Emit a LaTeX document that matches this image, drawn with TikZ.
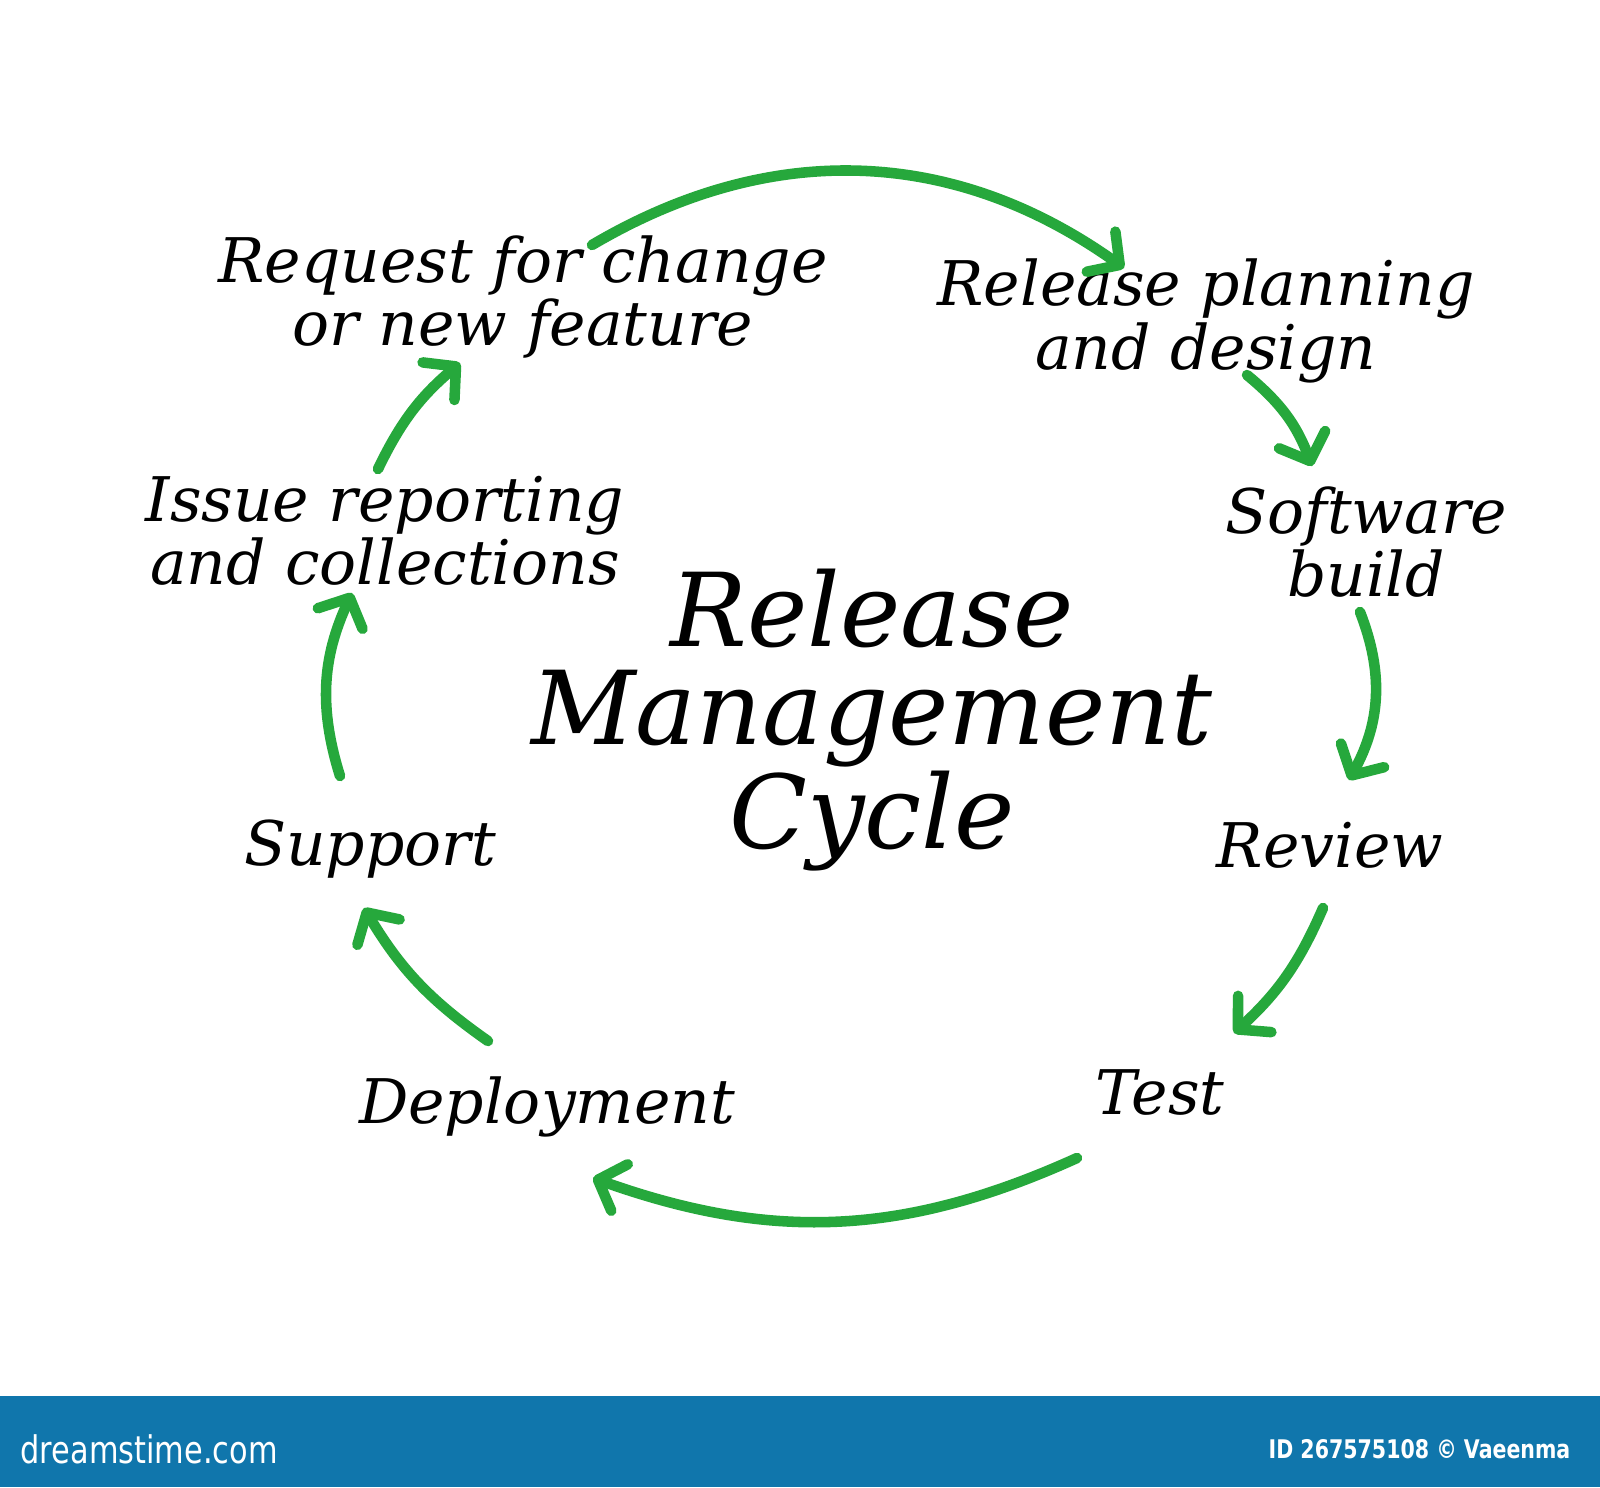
\documentclass[tikz,border=0pt]{standalone}
\usepackage{fontspec}
\setmainfont{DejaVu Serif}
\newfontfamily\barfont[FakeStretch=0.8]{DejaVu Sans}
\usetikzlibrary{arrows.meta}

\definecolor{cyclegreen}{RGB}{38,168,60}
\definecolor{barblue}{RGB}{16,118,172}

\tikzset{
    stagelabel/.style={font=\fontsize{17.5}{18}\selectfont\itshape, align=center, inner sep=0pt},
    cyclearrow/.style={cyclegreen, line width=3pt, line cap=round,
        -{Straight Barb[length=6.5pt,width=14pt,round]}}
}

\begin{document}
\begin{tikzpicture}[x=0.01cm, y=-0.01cm]

        % Canvas
        \useasboundingbox (0,0) rectangle (1600,1487);
        \fill[white] (0,0) rectangle (1600,1487);

        % Title
        \node[font=\fontsize{29}{28}\selectfont\itshape, align=center] (title) at (872,720) {Release\\Management\\Cycle};

        % Stages of the cycle
        \node[stagelabel] (request) at (523,297) {Request for change\\or new feature};
        \node[stagelabel] (planning) at (1206,321) {Release planning\\and design};
        \node[stagelabel] (build) at (1366,542) {Software\\build};
        \node[stagelabel] (review) at (1330,845) {Review};
        \node[stagelabel] (test) at (1160,1092) {Test};
        \node[stagelabel] (deploy) at (547,1107) {Deployment};
        \node[stagelabel] (support) at (370,849) {Support};
        \node[stagelabel] (issue) at (385,531) {Issue reporting\\and collections};

        % Arrow ends
        \coordinate (s1) at (592,245);  \coordinate (e1) at (1124,268);
        \coordinate (s2) at (1247,375); \coordinate (e2) at (1312,466);
        \coordinate (s3) at (1360,612); \coordinate (e3) at (1349,780);
        \coordinate (s4) at (1323,908); \coordinate (e4) at (1234,1033);
        \coordinate (s5) at (1077,1158); \coordinate (e5) at (593,1178);
        \coordinate (s6) at (488,1041); \coordinate (e6) at (364,908);
        \coordinate (s7) at (340,776);  \coordinate (e7) at (352,593);
        \coordinate (s8) at (378,469);  \coordinate (e8) at (460,363);

        \foreach \i/\b in {1/33,2/15,3/25,4/12,5/22,6/12,7/21,8/12}
            {
                \draw[cyclearrow] (s\i) to[bend left=\b] (e\i);
            }

        % Stock bar
        \fill[barblue] (0,1396) rectangle (1600,1487);
        \node[font=\barfont\fontsize{10.8}{11}\selectfont, white, anchor=west, inner sep=0pt] (site) at (20,1449) {dreamstime.com};
        \node[font=\barfont\bfseries\fontsize{7.3}{8}\selectfont, white, anchor=east, inner sep=0pt] (credit) at (1571,1449) {ID 267575108 © Vaeenma};

    \end{tikzpicture}
\end{document}
